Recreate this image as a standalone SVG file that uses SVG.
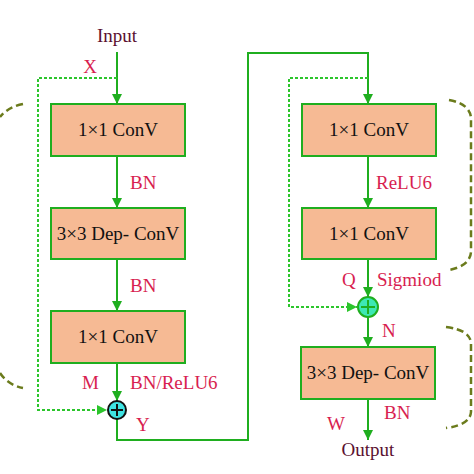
<svg xmlns="http://www.w3.org/2000/svg" width="474" height="474" viewBox="0 0 474 474">
<style>
.box{fill:#f6ba94;stroke:#1fae1f;stroke-width:2}
.bt{font-family:"Liberation Serif",serif;font-size:19px;fill:#111;text-anchor:middle}
.lb{font-family:"Liberation Serif",serif;font-size:19px;fill:#d81e50}
.io{font-family:"Liberation Serif",serif;font-size:19px;fill:#5a1030;text-anchor:middle}
.ln{fill:none;stroke:#1fae1f;stroke-width:2}
.dl{fill:none;stroke:#2cc52c;stroke-width:2;stroke-dasharray:3,2}
.br{fill:none;stroke:#6b7b1c;stroke-width:2.5;stroke-dasharray:7,4}
</style>
<defs>
<marker id="ah" viewBox="0 0 10 10" refX="10" refY="5" markerWidth="5" markerHeight="5" markerUnits="strokeWidth" orient="auto">
<path d="M0,0 L10,5 L0,10 z" fill="#1fae1f"/>
</marker>
<marker id="ahd" viewBox="0 0 10 10" refX="10" refY="5" markerWidth="5" markerHeight="5" markerUnits="strokeWidth" orient="auto">
<path d="M0,0 L10,5 L0,10 z" fill="#2cc52c"/>
</marker>
</defs>
<rect width="474" height="474" fill="#fff"/>

<g id="connectors">
<line class="ln" x1="117" y1="52" x2="117" y2="104" marker-end="url(#ah)"/>
<line class="ln" x1="117" y1="156" x2="117" y2="208" marker-end="url(#ah)"/>
<line class="ln" x1="117" y1="259" x2="117" y2="311" marker-end="url(#ah)"/>
<line class="ln" x1="117" y1="363" x2="117" y2="401" marker-end="url(#ah)"/>
<path class="dl" d="M117,78 H38 V410 H107" marker-end="url(#ahd)"/>
<path class="ln" d="M117,419 V440 H248 V53 H368 V104" marker-end="url(#ah)"/>
<path class="dl" d="M368,78 H289 V307 H357" marker-end="url(#ahd)"/>
<line class="ln" x1="368" y1="156" x2="368" y2="208" marker-end="url(#ah)"/>
<line class="ln" x1="368" y1="259" x2="368" y2="297" marker-end="url(#ah)"/>
<line class="ln" x1="368" y1="317" x2="368" y2="347" marker-end="url(#ah)"/>
<line class="ln" x1="368" y1="399" x2="368" y2="440" marker-end="url(#ah)"/>
</g>

<g id="brackets">
<path class="br" d="M23,104 Q8,107 0,117"/>
<path class="br" d="M0,373 Q8,385 23,388"/>
<path class="br" d="M449,100 Q470,104 471,118 V252 Q470,266 449,270"/>
<path class="br" d="M446,327 Q470,330 471,343 V412 Q470,425 446,428"/>
</g>

<g id="input"><text class="io" x="117" y="42">Input</text></g>
<g id="output"><text class="io" x="368" y="456">Output</text></g>

<g id="boxL1"><rect class="box" x="51" y="104" width="134" height="52"/><text class="bt" x="118" y="136">1×1 ConV</text></g>
<g id="boxL2"><rect class="box" x="51" y="208" width="134" height="51"/><text class="bt" x="118" y="240">3×3 Dep- ConV</text></g>
<g id="boxL3"><rect class="box" x="51" y="311" width="134" height="52"/><text class="bt" x="118" y="343">1×1 ConV</text></g>

<g id="addL">
<circle cx="117" cy="410" r="9" fill="#3fe3e3" stroke="#111" stroke-width="2"/>
<path d="M111,410 H123 M117,404 V416" stroke="#111" stroke-width="2"/>
</g>

<g id="boxR1"><rect class="box" x="302" y="104" width="134" height="52"/><text class="bt" x="369" y="136">1×1 ConV</text></g>
<g id="boxR2"><rect class="box" x="302" y="208" width="134" height="51"/><text class="bt" x="369" y="240">1×1 ConV</text></g>
<g id="boxR3"><rect class="box" x="301" y="347" width="134" height="52"/><text class="bt" x="368" y="379">3×3 Dep- ConV</text></g>

<g id="addR">
<circle cx="368" cy="307" r="10" fill="#3de8b4" stroke="#1fae1f" stroke-width="2"/>
<path d="M361,307 H375 M368,300 V314" stroke="#1fae1f" stroke-width="2"/>
</g>

<g id="labels">
<text class="lb" x="90" y="73" text-anchor="middle">X</text>
<text class="lb" x="130" y="189">BN</text>
<text class="lb" x="130" y="292">BN</text>
<text class="lb" x="82" y="389">M</text>
<text class="lb" x="130" y="389">BN/ReLU6</text>
<text class="lb" x="136" y="431">Y</text>
<text class="lb" x="376" y="189">ReLU6</text>
<text class="lb" x="342" y="286">Q</text>
<text class="lb" x="377" y="286">Sigmiod</text>
<text class="lb" x="382" y="337">N</text>
<text class="lb" x="327" y="430">W</text>
<text class="lb" x="384" y="419">BN</text>
</g>
</svg>
